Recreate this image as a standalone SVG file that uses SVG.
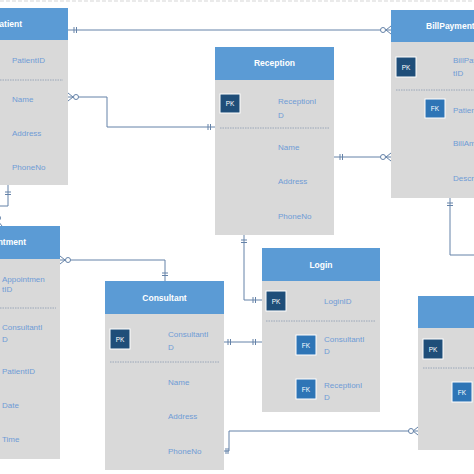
<svg xmlns="http://www.w3.org/2000/svg" width="474" height="474" viewBox="0 0 474 474">
<style>
.hd{fill:#5b9bd5}
.bd{fill:#d9d9d9}
.tt{font-family:"Liberation Sans",Arial,sans-serif;font-size:8.5px;fill:#fff;font-weight:bold}
.at{font-family:"Liberation Sans",Arial,sans-serif;font-size:8px;fill:#6f9bd6}
.dv{stroke:#8a9bb0;stroke-width:0.8;stroke-dasharray:1.5 1}
.pk{fill:#1f4e79;stroke:#fff;stroke-width:1}
.fk{fill:#2e75b6;stroke:#fff;stroke-width:1}
.kt{font-family:"Liberation Sans",Arial,sans-serif;font-size:6.5px;fill:#fff;text-anchor:middle}
.cn{fill:none;stroke:#6482a8;stroke-width:1}
.ci{fill:#fff;stroke:#6482a8;stroke-width:1}
</style>
<rect width="474" height="474" fill="#fff"/>
<line x1="0" y1="1" x2="474" y2="1" stroke="#e4e4e4" stroke-width="1.5" stroke-dasharray="4 2"/>

<g id="patient">
<rect class="bd" x="-50" y="40" width="118" height="145"/>
<rect class="hd" x="-50" y="8" width="118" height="32"/>
<text class="tt" x="22" y="27" text-anchor="end">Patient</text>
<text class="at" x="12" y="63">PatientID</text>
<line class="dv" x1="0" y1="80" x2="63" y2="80"/>
<text class="at" x="12" y="102">Name</text>
<text class="at" x="12" y="136">Address</text>
<text class="at" x="12" y="170">PhoneNo</text>
</g>

<g id="reception">
<rect class="bd" x="215" y="80" width="119" height="155"/>
<rect class="hd" x="215" y="47" width="119" height="33"/>
<text class="tt" x="274.5" y="66" text-anchor="middle">Reception</text>
<rect class="pk" x="220" y="94" width="20" height="19"/>
<text class="kt" x="230" y="106">PK</text>
<text class="at" x="278" y="104">ReceptionI</text>
<text class="at" x="278" y="118">D</text>
<line class="dv" x1="220" y1="128" x2="330" y2="128"/>
<text class="at" x="278" y="150">Name</text>
<text class="at" x="278" y="184">Address</text>
<text class="at" x="278" y="219">PhoneNo</text>
</g>

<g id="billpayment">
<rect class="bd" x="391" y="42" width="120" height="156"/>
<rect class="hd" x="391" y="10" width="120" height="32"/>
<text class="tt" x="426" y="29">BillPayment</text>
<rect class="pk" x="396" y="57" width="20" height="20"/>
<text class="kt" x="406" y="69.5">PK</text>
<text class="at" x="453" y="63">BillPaymen</text>
<text class="at" x="453" y="76">tID</text>
<line class="dv" x1="396" y1="90" x2="474" y2="90"/>
<rect class="fk" x="425" y="99" width="20" height="19"/>
<text class="kt" x="435" y="111">FK</text>
<text class="at" x="453" y="113">PatientID</text>
<text class="at" x="453" y="146">BillAmount</text>
<text class="at" x="453" y="181">Description</text>
</g>

<g id="appointment">
<rect class="bd" x="-60" y="259" width="120" height="200"/>
<rect class="hd" x="-60" y="226" width="120" height="33"/>
<text class="tt" x="26" y="245" text-anchor="end">Appointment</text>
<text class="at" x="2" y="282">Appointmen</text>
<text class="at" x="2" y="292">tID</text>
<line class="dv" x1="0" y1="308" x2="56" y2="308"/>
<text class="at" x="2" y="330">ConsultantI</text>
<text class="at" x="2" y="342">D</text>
<text class="at" x="2" y="374">PatientID</text>
<text class="at" x="2" y="408">Date</text>
<text class="at" x="2" y="442">Time</text>
</g>

<g id="consultant">
<rect class="bd" x="105" y="314" width="119" height="156"/>
<rect class="hd" x="105" y="281" width="119" height="33"/>
<text class="tt" x="164.5" y="301" text-anchor="middle">Consultant</text>
<rect class="pk" x="110" y="329" width="20" height="20"/>
<text class="kt" x="120" y="341.5">PK</text>
<text class="at" x="168" y="337">ConsultantI</text>
<text class="at" x="168" y="350">D</text>
<line class="dv" x1="110" y1="362" x2="220" y2="362"/>
<text class="at" x="168" y="385">Name</text>
<text class="at" x="168" y="419">Address</text>
<text class="at" x="168" y="454">PhoneNo</text>
</g>

<g id="login">
<rect class="bd" x="262" y="281" width="118" height="131"/>
<rect class="hd" x="262" y="248" width="118" height="33"/>
<text class="tt" x="321" y="268" text-anchor="middle">Login</text>
<rect class="pk" x="266" y="291" width="20" height="20"/>
<text class="kt" x="276" y="303.5">PK</text>
<text class="at" x="324" y="304">LoginID</text>
<line class="dv" x1="266" y1="321" x2="376" y2="321"/>
<rect class="fk" x="296" y="335" width="20" height="20"/>
<text class="kt" x="306" y="347.5">FK</text>
<text class="at" x="324" y="342">ConsultantI</text>
<text class="at" x="324" y="354">D</text>
<rect class="fk" x="296" y="379" width="20" height="20"/>
<text class="kt" x="306" y="391.5">FK</text>
<text class="at" x="324" y="388">ReceptionI</text>
<text class="at" x="324" y="400">D</text>
</g>

<g id="entity-bottom-right">
<rect class="bd" x="418" y="328" width="120" height="122"/>
<rect class="hd" x="418" y="296" width="120" height="32"/>
<rect class="pk" x="423" y="339" width="20" height="20"/>
<text class="kt" x="433" y="351.5">PK</text>
<line class="dv" x1="423" y1="368" x2="474" y2="368"/>
<rect class="fk" x="452" y="382" width="20" height="20"/>
<text class="kt" x="462" y="394.5">FK</text>
</g>

<g id="connectors">
<path class="cn" d="M68 30 H391 M74 27 V33 M76.5 27 V33 M386 30 L391 26 M386 30 L391 34"/>
<circle class="ci" cx="383" cy="30" r="2.5"/>
<path class="cn" d="M68 97 H107 V127 H215 M73 97 L68 93 M73 97 L68 101 M208 124 V130 M210.5 124 V130"/>
<circle class="ci" cx="76" cy="97" r="2.5"/>
<path class="cn" d="M8 185 V206 H-2 V226 M5 192 H11 M5 194.5 H11 M-2 221 L-6 226 M-2 221 L2 226"/>
<circle class="ci" cx="-2" cy="218" r="2.5"/>
<path class="cn" d="M60 260 H165 V281 M65 260 L60 256 M65 260 L60 264 M162 273 H168 M162 275.5 H168"/>
<circle class="ci" cx="68" cy="260" r="2.5"/>
<path class="cn" d="M244 235 V300 H262 M241 240 H247 M241 242.5 H247 M253 297 V303 M255.5 297 V303"/>
<path class="cn" d="M224 342 H262 M228 339 V345 M230.5 339 V345 M253 339 V345 M255.5 339 V345"/>
<path class="cn" d="M334 157 H391 M340 154 V160 M342.5 154 V160 M386 157 L391 153 M386 157 L391 161"/>
<circle class="ci" cx="383" cy="157" r="2.5"/>
<path class="cn" d="M450 198 V255 H474 M447 203 H453 M447 205.5 H453"/>
<path class="cn" d="M224 451 H229 V431 H418 M226 448 V454 M228 448 V454 M413 431 L418 427 M413 431 L418 435"/>
<circle class="ci" cx="411" cy="431" r="2.5"/>
</g>
</svg>
